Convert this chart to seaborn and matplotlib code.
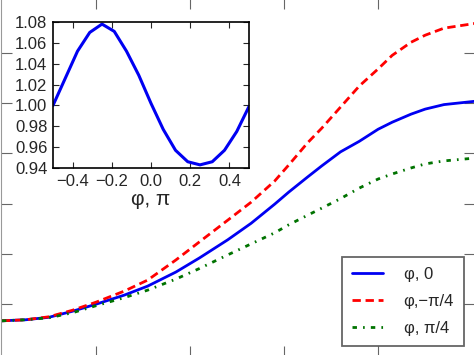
import numpy as np
import seaborn as sns
import matplotlib.pyplot as plt

# main curves (x in arbitrary units, tick labels cut off by the crop)
x_main = [0.0, 0.25, 0.5, 0.75, 1.0, 1.3, 1.55, 1.85, 2.1, 2.4, 2.65, 2.9,
          3.05, 3.25, 3.4, 3.6, 3.8, 4.0, 4.15, 4.35, 4.5, 4.7, 5.05]
y_phi0 = [0.67, 0.69, 0.74, 0.86, 1.00, 1.18, 1.36, 1.64, 1.92, 2.28, 2.61, 2.99,
          3.23, 3.53, 3.75, 4.03, 4.24, 4.48, 4.62, 4.78, 4.88, 4.97, 5.04]
y_phi_minus = [0.67, 0.69, 0.75, 0.88, 1.04, 1.26, 1.48, 1.88, 2.24, 2.67, 3.03, 3.45,
               3.77, 4.21, 4.50, 4.92, 5.34, 5.68, 5.95, 6.21, 6.35, 6.49, 6.59]
y_phi_plus = [0.67, 0.69, 0.73, 0.83, 0.97, 1.13, 1.28, 1.50, 1.71, 1.98, 2.20, 2.42,
              2.58, 2.77, 2.91, 3.10, 3.31, 3.49, 3.59, 3.71, 3.79, 3.85, 3.91]
labels = ["φ, 0", "φ,−π/4", "φ, π/4"]

# inset curve
x_inset = [-0.5, -0.4375, -0.375, -0.3125, -0.25, -0.1875, -0.125, -0.0625, 0.0,
           0.0625, 0.125, 0.1875, 0.25, 0.3125, 0.375, 0.4375, 0.5]
y_inset = [1.000, 1.026, 1.052, 1.070, 1.078, 1.071, 1.052, 1.029, 1.002,
           0.977, 0.957, 0.946, 0.943, 0.946, 0.957, 0.975, 0.999]
inset_xticks = [-0.4, -0.2, 0.0, 0.2, 0.4]
inset_yticks = [0.94, 0.96, 0.98, 1.00, 1.02, 1.04, 1.06, 1.08]

sns.set_style("ticks")
plt.rcParams['font.family'] = ['Liberation Sans', 'DejaVu Sans']
plt.rcParams['axes.unicode_minus'] = True

fig = plt.figure(figsize=(4.74, 3.55), dpi=100)

# main axes runs a little past the figure edges (cropped figure)
ax = fig.add_axes([1 / 474, -2 / 355, 474 / 474, 359 / 355])
sns.lineplot(x=x_main, y=y_phi0, color=(0, 0, 0.95), lw=2, label=labels[0], ax=ax)
sns.lineplot(x=x_main, y=y_phi_minus, color=(1, 0, 0), lw=2,
             linestyle=(0, (3, 1.7)), label=labels[1], ax=ax)
sns.lineplot(x=x_main, y=y_phi_plus, color=(0, 0.45, 0), lw=2,
             linestyle=(0, (1.6, 2.2, 0.6, 2.2)), label=labels[2], ax=ax)
ax.set_xlim(-0.01, 5.03)
ax.set_ylim(-0.05, 7.09)
ax.set_xticks([1, 2, 3, 4])
ax.set_yticks([1, 2, 3, 4, 5, 6])
ax.tick_params(direction='in', length=8, width=0.8, color='0.4',
               top=True, right=True, labelbottom=False, labelleft=False)
for s in ax.spines.values():
    s.set_color('0.6')
leg = ax.legend(loc='lower right', bbox_to_anchor=(0.977, 0.031), fontsize=12,
                frameon=True, fancybox=False, handlelength=1.85,
                handletextpad=1.25, borderpad=0.6, labelspacing=0.72,
                borderaxespad=0)
leg.get_frame().set_edgecolor('0.25')
leg.get_frame().set_linewidth(1.3)

# inset
ax2 = fig.add_axes([53 / 474, (355 - 168) / 355, 196 / 474, 146 / 355])
sns.lineplot(x=x_inset, y=y_inset, color=(0, 0, 0.95), lw=2.2, ax=ax2)
ax2.set_xlim(-0.5, 0.5)
ax2.set_ylim(0.94, 1.08)
ax2.set_xticks(inset_xticks)
ax2.set_yticks(inset_yticks)
ax2.set_xticklabels([f"{v:.1f}".replace('-', '−') for v in inset_xticks])
ax2.set_yticklabels([f"{v:.2f}" for v in inset_yticks])
ax2.tick_params(direction='in', length=4, width=0.8, top=True, right=True,
                labelsize=12, pad=4)
for s in ax2.spines.values():
    s.set_color('black')
    s.set_linewidth(1.2)
ax2.set_xlabel("φ, π", fontsize=15, labelpad=1)
ax2.set_ylabel("")

fig.savefig("out.png", dpi=100)
